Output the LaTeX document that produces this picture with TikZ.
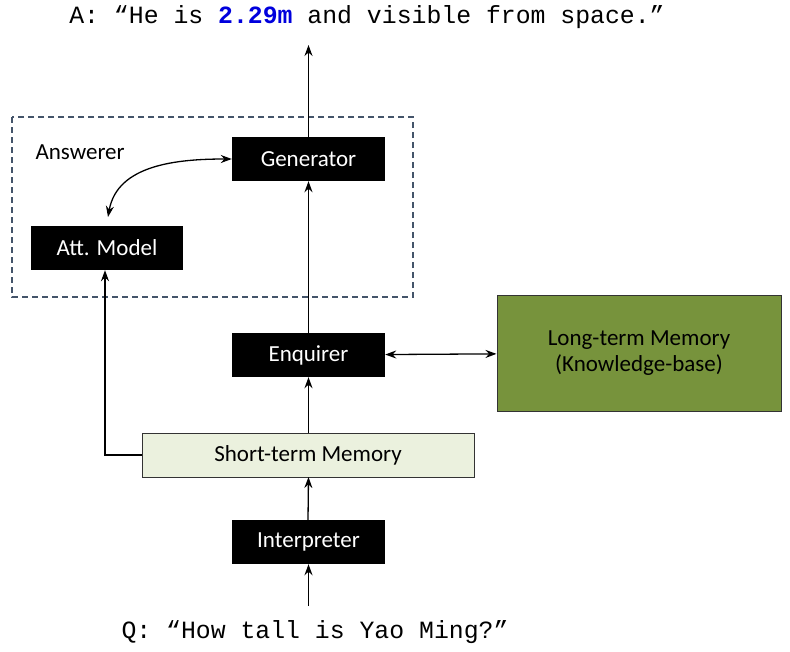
\documentclass[tikz,border=0pt]{standalone}
\usepackage{fontspec}
\setmainfont{Carlito}
\newfontfamily\monofont{Liberation Mono}
\usetikzlibrary{arrows.meta}
\definecolor{boxline}{HTML}{44546A}
\definecolor{ltgreen}{HTML}{77933C}
\definecolor{stgreen}{HTML}{EBF1DE}
\definecolor{ansblue}{HTML}{0000DD}
\tikzset{
  blk/.style={fill=black, text=white, minimum width=153pt, minimum height=44pt, inner sep=0pt, font=\fontsize{23}{26}\selectfont},
  mem/.style={draw=black!80, line width=1pt, inner sep=0pt, font=\fontsize{23}{26}\selectfont},
  arr/.style={line width=1.3pt, -{Stealth[length=11pt,width=8pt]}},
  quote/.style={font=\monofont\fontsize{24.8}{28}\selectfont}
}
\begin{document}
\begin{tikzpicture}[x=1pt,y=-1pt]
    \useasboundingbox (0,0) rectangle (790,651);
    \draw[boxline, dashed, line width=1.5pt, dash pattern=on 6pt off 4pt] (12,117) rectangle (413,297);
    \node[anchor=west, font=\fontsize{23}{26}\selectfont] (ans) at (32,152) {Answerer};
    \node[blk] (gen) at (308.5,159) {Generator};
    \node[blk, minimum width=152pt] (att) at (107,248) {Att. Model};
    \node[blk] (enq) at (308.5,355) {Enquirer};
    \node[blk] (int) at (308.5,542) {Interpreter};
    \node[mem, fill=ltgreen, minimum width=284pt, minimum height=116pt, align=center] (ltm) at (639,353) {Long-term Memory\\(Knowledge-base)};
    \node[mem, fill=stgreen, minimum width=332pt, minimum height=44pt] (stm) at (308,455) {Short-term Memory};
    \node[quote] (qq) at (315,632) {Q: “How tall is Yao Ming?”};
    \node[quote] (aa) at (367,17) {A: “He is \textcolor{ansblue}{\bfseries 2.29m} and visible from space.”};
    \coordinate (qin) at (308.5,606);
    \coordinate (aout) at (308.5,45);
    % main chain
    \draw[arr] (qin) -- (int);
    \draw[arr] (int) -- (stm.north |- int.north) -- (308.5,477);
    \draw[arr] (308.5,433) -- (enq);
    \draw[arr] (enq) -- (gen);
    \draw[arr] (gen) -- (aout);
    \draw[arr, {Stealth[length=11pt,width=8pt]}-{Stealth[length=11pt,width=8pt]}] (enq) -- (ltm);
    \draw[arr] (stm.west) -| (att.south -| 105,0);
    \draw[arr, {Stealth[length=11pt,width=8pt]}-{Stealth[length=11pt,width=8pt]}] (108,217) to[out=80,in=180] (gen.west);
\end{tikzpicture}
\end{document}
